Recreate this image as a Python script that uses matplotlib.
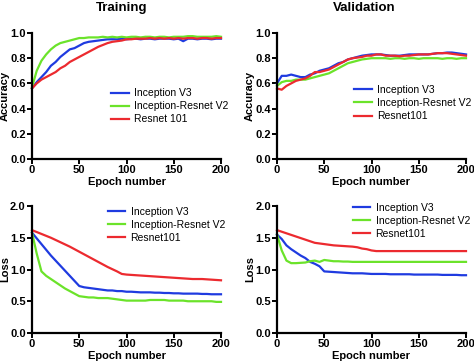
import numpy as np
import matplotlib
matplotlib.use("Agg")
import matplotlib.pyplot as plt

plt.rcParams['font.family'] = ['Liberation Sans', 'DejaVu Sans']

epochs = list(range(0, 201, 5))

# Training accuracy
train_acc_v3 = [0.56, 0.61, 0.65, 0.69, 0.74, 0.77, 0.81, 0.84, 0.87, 0.88, 0.90, 0.92, 0.93, 0.935, 0.94, 0.945,
                0.95, 0.95, 0.95, 0.955, 0.95, 0.955, 0.955, 0.95, 0.955, 0.955, 0.95, 0.955, 0.955, 0.955, 0.95,
                0.955, 0.935, 0.955, 0.955, 0.95, 0.955, 0.955, 0.95, 0.955, 0.955]
train_acc_irv2 = [0.57, 0.70, 0.78, 0.83, 0.87, 0.90, 0.92, 0.93, 0.94, 0.95, 0.96, 0.96, 0.965, 0.965, 0.965, 0.97,
                  0.965, 0.97, 0.965, 0.97, 0.965, 0.97, 0.97, 0.965, 0.97, 0.97, 0.965, 0.97, 0.97, 0.965, 0.97,
                  0.97, 0.97, 0.975, 0.975, 0.97, 0.97, 0.97, 0.97, 0.975, 0.97]
train_acc_r101 = [0.56, 0.60, 0.63, 0.65, 0.67, 0.69, 0.72, 0.74, 0.77, 0.79, 0.81, 0.83, 0.85, 0.87, 0.89, 0.905,
                  0.92, 0.93, 0.935, 0.94, 0.95, 0.95, 0.955, 0.955, 0.955, 0.96, 0.955, 0.96, 0.955, 0.96, 0.955,
                  0.96, 0.955, 0.96, 0.96, 0.955, 0.96, 0.96, 0.955, 0.96, 0.96]

# Validation accuracy
val_acc_v3 = [0.60, 0.66, 0.66, 0.67, 0.66, 0.65, 0.65, 0.67, 0.68, 0.70, 0.71, 0.72, 0.74, 0.76, 0.77, 0.79,
              0.80, 0.81, 0.82, 0.825, 0.83, 0.83, 0.83, 0.825, 0.82, 0.82, 0.82, 0.825, 0.83, 0.83, 0.83,
              0.83, 0.83, 0.835, 0.84, 0.84, 0.845, 0.845, 0.84, 0.835, 0.83]
val_acc_irv2 = [0.58, 0.61, 0.62, 0.62, 0.63, 0.63, 0.63, 0.64, 0.65, 0.66, 0.67, 0.68, 0.70, 0.72, 0.74, 0.76,
                0.77, 0.78, 0.79, 0.795, 0.80, 0.80, 0.80, 0.80, 0.795, 0.80, 0.80, 0.795, 0.80, 0.80, 0.795,
                0.80, 0.80, 0.80, 0.80, 0.795, 0.80, 0.80, 0.795, 0.80, 0.80]
val_acc_r101 = [0.56, 0.55, 0.58, 0.60, 0.62, 0.63, 0.64, 0.66, 0.69, 0.69, 0.70, 0.71, 0.73, 0.75, 0.77, 0.79,
                0.80, 0.805, 0.81, 0.82, 0.82, 0.83, 0.83, 0.82, 0.82, 0.82, 0.815, 0.82, 0.82, 0.825, 0.83,
                0.83, 0.83, 0.835, 0.84, 0.84, 0.84, 0.835, 0.83, 0.825, 0.82]

# Training loss
train_loss_v3 = [1.58, 1.49, 1.40, 1.31, 1.22, 1.14, 1.06, 0.98, 0.90, 0.82, 0.74, 0.72, 0.71, 0.70, 0.69, 0.68,
                 0.67, 0.67, 0.66, 0.66, 0.65, 0.65, 0.645, 0.64, 0.64, 0.64, 0.635, 0.635, 0.63, 0.63, 0.625,
                 0.625, 0.62, 0.62, 0.62, 0.62, 0.615, 0.615, 0.61, 0.61, 0.61]
train_loss_irv2 = [1.58, 1.25, 0.97, 0.90, 0.85, 0.80, 0.75, 0.70, 0.66, 0.62, 0.58, 0.57, 0.56, 0.56, 0.55, 0.55,
                   0.55, 0.54, 0.53, 0.52, 0.51, 0.51, 0.51, 0.51, 0.51, 0.52, 0.52, 0.52, 0.52, 0.51, 0.51,
                   0.51, 0.51, 0.50, 0.50, 0.50, 0.50, 0.50, 0.50, 0.49, 0.49]
train_loss_r101 = [1.62, 1.59, 1.56, 1.53, 1.50, 1.465, 1.43, 1.395, 1.36, 1.32, 1.28, 1.24, 1.20, 1.16, 1.12, 1.08,
                   1.04, 1.005, 0.97, 0.93, 0.92, 0.915, 0.91, 0.905, 0.90, 0.895, 0.89, 0.885, 0.88, 0.875, 0.87,
                   0.865, 0.86, 0.855, 0.85, 0.85, 0.85, 0.845, 0.84, 0.835, 0.83]

# Validation loss
val_loss_v3 = [1.55, 1.48, 1.38, 1.32, 1.27, 1.22, 1.18, 1.12, 1.09, 1.05, 0.97, 0.965, 0.96, 0.955, 0.95, 0.945,
               0.94, 0.94, 0.94, 0.935, 0.93, 0.93, 0.93, 0.93, 0.925, 0.925, 0.925, 0.925, 0.925, 0.92, 0.92,
               0.92, 0.92, 0.92, 0.92, 0.915, 0.915, 0.915, 0.915, 0.91, 0.91]
val_loss_irv2 = [1.55, 1.30, 1.14, 1.10, 1.10, 1.105, 1.11, 1.13, 1.14, 1.12, 1.15, 1.14, 1.13, 1.13, 1.125, 1.125,
                 1.12, 1.12, 1.12, 1.12, 1.12, 1.12, 1.12, 1.12, 1.12, 1.12, 1.12, 1.12, 1.12, 1.12, 1.12,
                 1.12, 1.12, 1.12, 1.12, 1.12, 1.12, 1.12, 1.12, 1.12, 1.12]
val_loss_r101 = [1.62, 1.595, 1.57, 1.545, 1.52, 1.495, 1.47, 1.445, 1.42, 1.41, 1.40, 1.39, 1.38, 1.375, 1.37, 1.365,
                 1.36, 1.35, 1.33, 1.32, 1.30, 1.29, 1.29, 1.29, 1.29, 1.29, 1.29, 1.29, 1.29, 1.29, 1.29,
                 1.29, 1.29, 1.29, 1.29, 1.29, 1.29, 1.29, 1.29, 1.29, 1.29]

names_top_left = ["Inception V3", "Inception-Resnet V2", "Resnet 101"]
names_other = ["Inception V3", "Inception-Resnet V2", "Resnet101"]
colors = ["#1f3be0", "#6be32a", "#ec2a2f"]

W, H = 474, 361
fig = plt.figure(figsize=(W / 100, H / 100), dpi=100)


def px_axes(x0, x1, ytop, ybot):
    return fig.add_axes([x0 / W, (H - ybot) / H, (x1 - x0) / W, (ybot - ytop) / H])


acc_ticks = [0, 0.2, 0.4, 0.6, 0.8, 1.0]
loss_ticks = [0, 0.5, 1.0, 1.5, 2.0]
axes_specs = [
    (32, 221, 33, 159, [train_acc_v3, train_acc_irv2, train_acc_r101], (0, 1.0), acc_ticks,
     "Accuracy", names_top_left, (0.42, 0.562)),
    (277, 466, 33, 159, [val_acc_v3, val_acc_irv2, val_acc_r101], (0, 1.0), acc_ticks,
     "Accuracy", names_other, (0.41, 0.588)),
    (32, 221, 206, 333, [train_loss_v3, train_loss_irv2, train_loss_r101], (0, 2.0), loss_ticks,
     "Loss", names_other, (0.40, 0.995)),
    (277, 466, 206, 333, [val_loss_v3, val_loss_irv2, val_loss_r101], (0, 2.0), loss_ticks,
     "Loss", names_other, (0.40, 1.025)),
]

for (x0, x1, yt, yb, series, ylim, yticks, ylabel, names, legpos) in axes_specs:
    ax = px_axes(x0, x1, yt, yb)
    for s, c, n in zip(series, colors, names):
        ax.plot(epochs, s, color=c, lw=1.6, label=n, clip_on=False)
    ax.set_xlim(0, 200)
    ax.set_ylim(*ylim)
    ax.set_xticks([0, 50, 100, 150, 200])
    ax.set_yticks(yticks)
    ax.set_yticklabels([f"{v:.1f}" for v in yticks])
    for sp in ("top", "right"):
        ax.spines[sp].set_visible(False)
    for sp in ("left", "bottom"):
        ax.spines[sp].set_linewidth(1.6)
    ax.tick_params(direction="out", length=3.5, width=1.4, labelsize=8, pad=1)
    for lab in ax.get_xticklabels() + ax.get_yticklabels():
        lab.set_fontweight("bold")
    ax.set_xlabel("Epoch number", fontsize=8, fontweight="bold", labelpad=1)
    ax.set_ylabel(ylabel, fontsize=8, fontweight="bold", labelpad=0)
    ax.legend(loc="upper left", bbox_to_anchor=legpos, frameon=False, fontsize=7.5,
              handlelength=1.7, handletextpad=0.5, labelspacing=0.3, borderpad=0, borderaxespad=0)

fig.text(122 / W, 1 - 8 / H, "Training", ha="center", va="center", fontsize=9.5, fontweight="bold")
fig.text(364 / W, 1 - 8 / H, "Validation", ha="center", va="center", fontsize=9.5, fontweight="bold")

fig.savefig("out.png", dpi=100)
